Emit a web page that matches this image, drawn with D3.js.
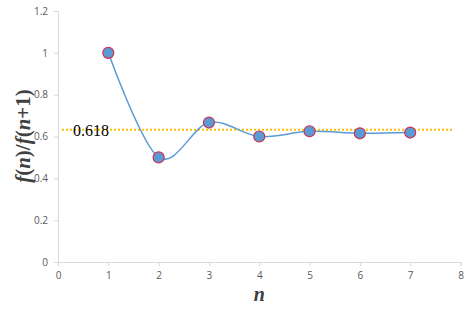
<!DOCTYPE html>
<html>
<head>
<meta charset="UTF-8">
<style>
  body { margin: 0; background: #fff; }
  .tick text { font-family: "Open Sans", "Liberation Sans", sans-serif; font-size: 10px; fill: #595959; }
  .domain, .tick line { stroke: #d9d9d9; }
</style>
</head>
<body>
<svg id="chart"></svg>
<script src="https://cdnjs.cloudflare.com/ajax/libs/d3/7.8.5/d3.min.js"></script>
<script>
let width = 474, height = 316;

// data: f(n)/f(n+1) for fibonacci numbers
let nValues = [1, 2, 3, 4, 5, 6, 7];
let ratios = [1, 0.5, 0.6667, 0.6, 0.625, 0.6154, 0.619];
let goldenValue = 0.632;   // where the dotted line sits in the picture
let goldenLabel = "0.618";
let xTicks = [0, 1, 2, 3, 4, 5, 6, 7, 8];
let yTicks = [0, 0.2, 0.4, 0.6, 0.8, 1, 1.2];

let svg = d3.select("#chart").attr("width", width).attr("height", height);

let x = d3.scaleLinear().domain([0, 8]).range([58, 460.5]);
let y = d3.scaleLinear().domain([0, 1.2]).range([262, 11]);

// axes
svg.append("g")
    .attr("transform", "translate(0," + y(0) + ")")
    .call(d3.axisBottom(x).tickValues(xTicks).tickFormat(d3.format("d")).tickSize(4).tickSizeOuter(4).tickPadding(6));

svg.append("g")
    .attr("transform", "translate(" + x(0) + ",0)")
    .call(d3.axisLeft(y).tickValues(yTicks).tickFormat(d => d3.format("")(d)).tickSize(4).tickSizeOuter(4).tickPadding(6));

// golden ratio dotted line
svg.append("line")
    .attr("x1", x(0) + 4).attr("x2", 454)
    .attr("y1", y(goldenValue)).attr("y2", y(goldenValue))
    .style("stroke", "#ffc000")
    .style("stroke-width", 2)
    .style("stroke-dasharray", "2,2");

svg.append("text")
    .attr("x", 73).attr("y", y(goldenValue) + 6)
    .style("font-family", "'Liberation Serif', serif")
    .style("font-size", "16px")
    .style("fill", "#000")
    .text(goldenLabel);

// smooth line
let line = d3.line()
    .x((d, i) => x(nValues[i]))
    .y(d => y(d))
    .curve(d3.curveCardinal.tension(0));

svg.append("path")
    .datum(ratios)
    .attr("d", line)
    .style("fill", "none")
    .style("stroke", "#5b9bd5")
    .style("stroke-width", 1.5);

svg.selectAll("circle.pt")
    .data(ratios)
    .enter()
    .append("circle")
    .attr("class", "pt")
    .attr("cx", (d, i) => x(nValues[i]))
    .attr("cy", d => y(d))
    .attr("r", 5.5)
    .style("fill", "#5b9bd5")
    .style("stroke", "#d0304e")
    .style("stroke-width", 1.2);

// axis titles
svg.append("text")
    .attr("x", x(4)).attr("y", 301)
    .attr("text-anchor", "middle")
    .style("font-family", "'Liberation Serif', serif")
    .style("font-style", "italic")
    .style("font-weight", "bold")
    .style("font-size", "20px")
    .style("fill", "#404040")
    .text("n");

let yTitle = svg.append("text")
    .attr("transform", "translate(30,136) rotate(-90)")
    .attr("text-anchor", "middle")
    .style("font-family", "'Liberation Serif', serif")
    .style("font-weight", "bold")
    .style("font-size", "21px")
    .style("fill", "#404040");
yTitle.append("tspan").style("font-style", "italic").text("f");
yTitle.append("tspan").text("(");
yTitle.append("tspan").style("font-style", "italic").text("n");
yTitle.append("tspan").text(")/");
yTitle.append("tspan").style("font-style", "italic").text("f");
yTitle.append("tspan").text("(");
yTitle.append("tspan").style("font-style", "italic").text("n");
yTitle.append("tspan").text("+1)");
</script>
</body>
</html>
